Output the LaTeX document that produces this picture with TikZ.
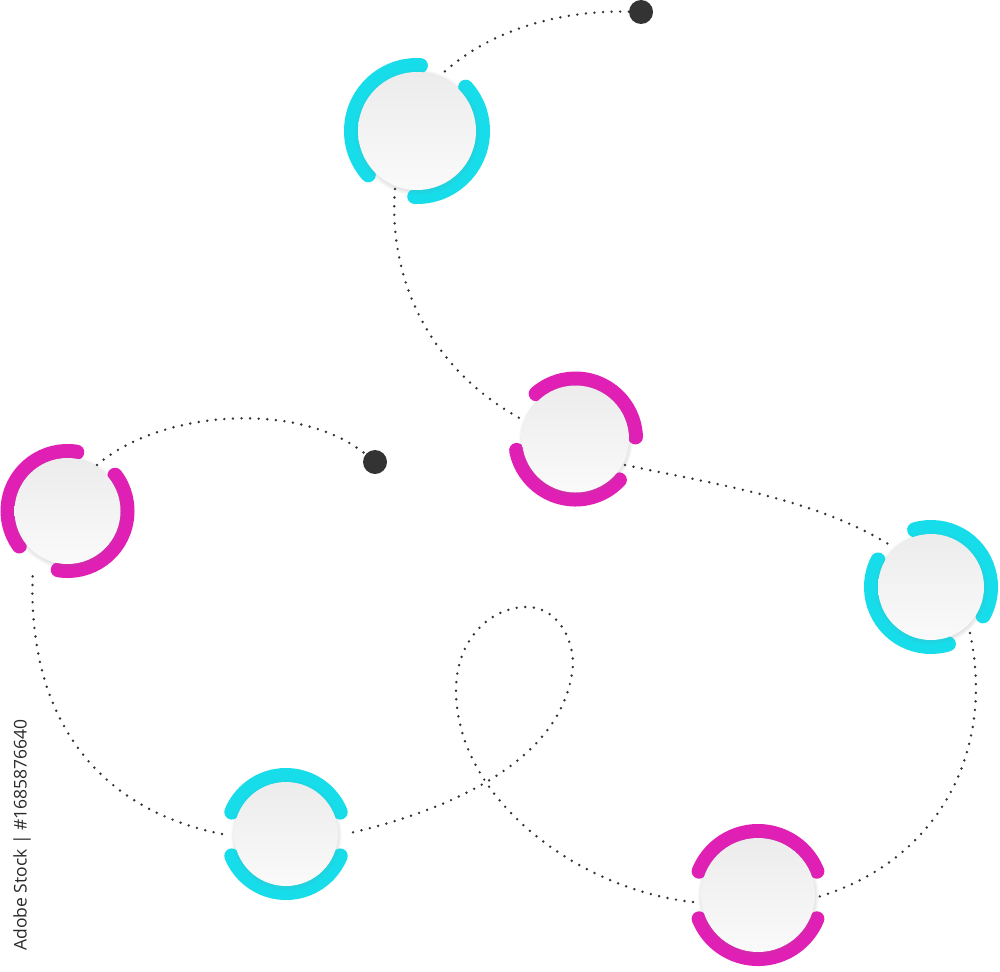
\documentclass[tikz,border=0pt]{standalone}
\usepackage{fontspec}
\newfontfamily\creditfont{Open Sans}
\usetikzlibrary{calc,shadows}
\definecolor{ringcyan}{HTML}{17DCEA}
\definecolor{ringmag}{HTML}{E01FB4}
\definecolor{dotgray}{HTML}{333333}
\definecolor{credgray}{HTML}{2A2A2A}
\definecolor{discA}{HTML}{ECECED}
\definecolor{discB}{HTML}{FAFAFA}
\newcommand{\ringseg}[5]{%
  \draw[ringline,#1] ($(#2)+(#4:#3)$) arc[start angle=#4, end angle=#5, radius=#3];}
\tikzset{
  dotline/.style={dotgray, line width=2.7pt, line cap=round, dash pattern=on 0pt off 8.6pt},
  ringline/.style={line width=15pt, line cap=round},
  disc/.style={circle, draw=none, inner sep=0pt, top color=discA, bottom color=discB,
    circular drop shadow={shadow xshift=0pt, shadow yshift=-1pt, shadow scale=1.07, opacity=0.2}},
  bigdot/.style={circle, fill=dotgray, inner sep=0pt, minimum size=24pt}
}
\begin{document}
\begin{tikzpicture}[x=1pt,y=-1pt]
\fill[white] (0,0) rectangle (1000,971);
\useasboundingbox (0,0) rectangle (1000,971);

% end dots
\node[bigdot] (d1) at (641,12) {};
\node[bigdot] (d2) at (375,462) {};

% connector end points (in ring gaps)
\coordinate (a1) at (443,73);
\coordinate (b1) at (395,189);
\coordinate (b2) at (523,420);
\coordinate (e2) at (625,465);
\coordinate (e3) at (893,547);
\coordinate (f3) at (970,633);
\coordinate (f4) at (818,897);
\coordinate (g4) at (693,902);
\coordinate (l1) at (456,690);
\coordinate (l2) at (527,607);
\coordinate (l3) at (573,665);
\coordinate (h5) at (350,833);
\coordinate (k5) at (222,834);
\coordinate (k6) at (33,568);
\coordinate (m6) at (97,465);

% dotted connectors
\draw[dotline] (d1) .. controls (560,10) and (490,30) .. (a1);
\draw[dotline] (b1) .. controls (388,280) and (430,370) .. (b2);
\draw[dotline] (e2) .. controls (720,485) and (820,500) .. (e3);
\draw[dotline] (f3) .. controls (995,750) and (940,860) .. (f4);
\draw[dotline] (g4) .. controls (580,890) and (456,800) .. (l1)
  .. controls (456,640) and (490,607) .. (l2)
  .. controls (555,607) and (573,635) .. (l3)
  .. controls (565,760) and (450,810) .. (h5);
\draw[dotline] (k5) .. controls (100,810) and (25,720) .. (k6);
\draw[dotline] (m6) .. controls (160,410) and (300,400) .. (d2);

% circles
\node[disc, minimum size=118pt] (c1) at (417,131) {};
\node[disc, minimum size=107pt] (c2) at (575.5,439) {};
\node[disc, minimum size=106pt] (c3) at (931,587) {};
\node[disc, minimum size=114pt] (c4) at (758,895) {};
\node[disc, minimum size=104pt] (c5) at (286,834) {};
\node[disc, minimum size=106pt] (c6) at (67.5,511) {};

% ring segments (angles negated because y points down)
\ringseg{ringcyan}{c1}{65.5}{-87}{-222}
\ringseg{ringcyan}{c1}{65.5}{-268}{-402}
\ringseg{ringmag}{c2}{60}{-2}{-131}
\ringseg{ringmag}{c2}{60}{-191}{-317}
\ringseg{ringcyan}{c3}{59.5}{29}{-106}
\ringseg{ringcyan}{c3}{59.5}{-153}{-287}
\ringseg{ringmag}{c4}{63.5}{-22}{-158}
\ringseg{ringmag}{c4}{63.5}{-202}{-338}
\ringseg{ringcyan}{c5}{58.5}{-22}{-158}
\ringseg{ringcyan}{c5}{58.5}{-202}{-338}
\ringseg{ringmag}{c6}{59.5}{-81}{-216}
\ringseg{ringmag}{c6}{59.5}{-261}{-397}

% redraw discs over the ring inner edges
\node[disc, minimum size=118pt] at (c1) {};
\node[disc, minimum size=107pt] at (c2) {};
\node[disc, minimum size=106pt] at (c3) {};
\node[disc, minimum size=114pt] at (c4) {};
\node[disc, minimum size=104pt] at (c5) {};
\node[disc, minimum size=106pt] at (c6) {};

% credit line
\node[rotate=90, text=credgray, font=\creditfont\fontsize{17.5}{20}\selectfont] (credit) at (22,835) {Adobe Stock | \#1685876640};
\end{tikzpicture}
\end{document}
